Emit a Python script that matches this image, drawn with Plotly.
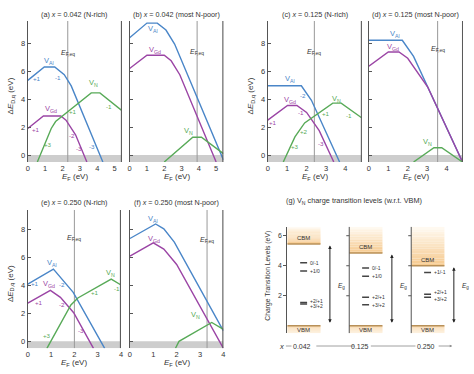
import plotly.graph_objects as go

W, H = 474, 374

# ---------------- data ----------------
panel_titles = ["(a) <i>x</i> = 0.042 (N-rich)", "(b) <i>x</i> = 0.042 (most N-poor)",
                "(c) <i>x</i> = 0.125 (N-rich)", "(d) <i>x</i> = 0.125 (most N-poor)",
                "(e) <i>x</i> = 0.250 (N-rich)", "(f) <i>x</i> = 0.250 (most N-poor)"]
band_gap = [5.42, 5.42, 4.85, 4.85, 4.0, 4.0]
EF_eq = [2.3, 3.9, 2.4, 3.54, 2.0, 3.3]
y_ticks = [0, 2, 4, 6, 8]

# (a) x = 0.042, N-rich
a_Al_E = [0, 0.95, 1.55, 2.1, 2.5, 4.32]
a_Al_dE = [5.35, 6.3, 6.3, 5.75, 4.95, -0.5]
a_Gd_E = [0, 0.9, 1.9, 2.2, 2.75, 3.4]
a_Gd_dE = [1.9, 2.8, 2.8, 2.5, 1.45, -0.5]
a_N_E = [0.55, 1.35, 1.6, 3.65, 4.15, 5.42]
a_N_dE = [-0.5, 1.9, 2.4, 4.45, 4.45, 3.18]
# (b) x = 0.042, most N-poor
b_Al_E = [0, 1.0, 1.6, 2.1, 2.6, 5.42]
b_Al_dE = [8.4, 9.45, 9.45, 8.95, 7.95, -0.35]
b_Gd_E = [0, 1.0, 2.0, 2.4, 2.9, 5.0]
b_Gd_dE = [6.2, 7.15, 7.15, 6.75, 5.75, -0.5]
b_N_E = [2.0, 3.65, 4.15, 5.42]
b_N_dE = [-0.5, 1.27, 1.27, 0.1]
# (c) x = 0.125, N-rich
c_Al_E = [0, 1.73, 2.25, 3.7]
c_Al_dE = [4.96, 4.96, 3.92, -0.5]
c_Gd_E = [0, 1.02, 1.5, 2.0, 2.65, 3.4]
c_Gd_dE = [2.5, 3.55, 3.55, 3.05, 1.75, -0.5]
c_N_E = [0.8, 1.4, 1.9, 3.35, 3.78, 4.85]
c_N_dE = [-0.5, 1.3, 2.3, 3.72, 3.72, 2.65]
# (d) x = 0.125, most N-poor
d_Al_E = [0, 1.72, 2.3, 4.82]
d_Al_dE = [8.22, 8.22, 7.06, -0.5]
d_Gd_E = [0, 1.0, 1.55, 2.0, 3.03, 4.82]
d_Gd_dE = [6.37, 7.38, 7.38, 6.93, 4.87, -0.5]
d_N_E = [2.3, 3.35, 3.75, 4.82]
d_N_dE = [-0.5, 0.52, 0.52, -0.5]
# (e) x = 0.250, N-rich
e_Al_E = [0, 1.1, 1.95, 3.3]
e_Al_dE = [4.1, 5.17, 3.5, -0.5]
e_Gd_E = [0, 0.97, 1.4, 1.97, 2.82]
e_Gd_dE = [2.73, 3.65, 3.15, 2.05, -0.5]
e_N_E = [0.82, 1.85, 2.15, 3.58, 4.0]
e_N_dE = [-0.5, 2.6, 3.1, 4.45, 4.03]
# (f) x = 0.250, most N-poor
f_Al_E = [0, 1.1, 1.45, 1.9, 4.0]
f_Al_dE = [7.36, 8.4, 8.05, 7.1, 0.75]
f_Gd_E = [0, 1.0, 1.45, 2.0, 4.0]
f_Gd_dE = [6.1, 7.05, 6.6, 5.5, -0.5]
f_N_E = [1.95, 2.1, 3.5, 4.0]
f_N_dE = [-0.5, 0.0, 1.35, 0.85]

# (g) V_N charge transition levels
g_x_labels = ["0.042", "0.125", "0.250"]
g_cbm = [5.45, 4.85, 4.0]
g_level_names = [["0/-1", "+1/0", "+2/+1", "+3/+2"],
                 ["0/-1", "+1/0", "+2/+1", "+3/+2"],
                 ["+1/-1", "+2/+1", "+3/+2"]]
g_levels = [[4.2, 3.65, 1.55, 1.45],
            [3.85, 3.3, 1.9, 1.4],
            [3.55, 2.1, 1.9]]

# ---------------- styling / layout ----------------
BLUE, PURPLE, GREEN = "#4a86c8", "#9b45a5", "#58aa58"
FONT = "Liberation Sans, Arial, sans-serif"
TXT = "#333333"

series = [
    [(a_Al_E, a_Al_dE, BLUE), (a_Gd_E, a_Gd_dE, PURPLE), (a_N_E, a_N_dE, GREEN)],
    [(b_Al_E, b_Al_dE, BLUE), (b_Gd_E, b_Gd_dE, PURPLE), (b_N_E, b_N_dE, GREEN)],
    [(c_Al_E, c_Al_dE, BLUE), (c_Gd_E, c_Gd_dE, PURPLE), (c_N_E, c_N_dE, GREEN)],
    [(d_Al_E, d_Al_dE, BLUE), (d_Gd_E, d_Gd_dE, PURPLE), (d_N_E, d_N_dE, GREEN)],
    [(e_Al_E, e_Al_dE, BLUE), (e_Gd_E, e_Gd_dE, PURPLE), (e_N_E, e_N_dE, GREEN)],
    [(f_Al_E, f_Al_dE, BLUE), (f_Gd_E, f_Gd_dE, PURPLE), (f_N_E, f_N_dE, GREEN)],
]

# panel pixel boxes: left, right, top, bottom
panel_px = [(26, 121, 21, 162), (128.7, 223.3, 21, 162),
            (268, 363, 21, 162), (370, 465, 21, 162),
            (26, 120, 210, 348.3), (129, 223.3, 210, 348.3)]
y_ranges = [[-0.5, 9.6]] * 4 + [[-0.5, 9.4]] * 2
eq_label_y = [7.3, 7.4, 7.4, 7.6, 7.4, 7.25]

# label placements (text, E, dE, colour, size)
L, S = 7.5, 6.2
panel_labels = [
    [("V<sub>Al</sub>", 1.2, 6.75, BLUE, L), ("+1", 0.55, 5.5, BLUE, S), ("-1", 1.75, 5.55, BLUE, S),
     ("-3", 3.72, 0.6, BLUE, S), ("V<sub>Gd</sub>", 1.35, 3.3, PURPLE, L), ("+1", 0.45, 1.85, PURPLE, S),
     ("-2", 2.55, 1.4, PURPLE, S), ("-3", 2.93, 0.45, PURPLE, S), ("V<sub>N</sub>", 3.77, 5.15, GREEN, L),
     ("+3", 1.17, 0.72, GREEN, S), ("+1", 2.62, 3.1, GREEN, S), ("-1", 4.7, 3.45, GREEN, S)],
    [("V<sub>Al</sub>", 1.37, 9.0, BLUE, L), ("V<sub>Gd</sub>", 1.45, 7.5, PURPLE, L),
     ("V<sub>N</sub>", 3.4, 1.75, GREEN, L)],
    [("V<sub>Al</sub>", 1.14, 5.42, BLUE, L), ("-2", 1.82, 4.23, BLUE, S), ("V<sub>Gd</sub>", 1.14, 3.94, PURPLE, L),
     ("+1", 0.25, 2.35, PURPLE, S), ("-1", 1.73, 3.03, PURPLE, S), ("-3", 2.76, 0.8, PURPLE, S),
     ("+2", 1.85, 1.67, GREEN, S), ("+3", 1.4, 0.6, GREEN, S), ("V<sub>N</sub>", 3.52, 4.0, GREEN, L),
     ("+1", 3.0, 3.0, GREEN, S), ("-1", 4.2, 2.8, GREEN, S)],
    [("V<sub>Al</sub>", 1.35, 8.7, BLUE, L), ("V<sub>Gd</sub>", 1.24, 7.75, PURPLE, L),
     ("V<sub>N</sub>", 3.0, 0.9, GREEN, L)],
    [("V<sub>Al</sub>", 1.04, 5.58, BLUE, L), ("+1", 0.33, 4.15, BLUE, S), ("-2", 1.46, 4.1, BLUE, S),
     ("V<sub>Gd</sub>", 0.89, 4.08, PURPLE, L), ("+1", 0.47, 2.8, PURPLE, S), ("-2", 1.46, 2.61, PURPLE, S),
     ("-3", 2.27, 0.76, PURPLE, S), ("+3", 0.82, 0.4, GREEN, S), ("+1", 2.88, 3.49, GREEN, S),
     ("-1", 3.83, 3.8, GREEN, S), ("V<sub>N</sub>", 3.55, 4.87, GREEN, L)],
    [("V<sub>Al</sub>", 1.0, 8.79, BLUE, L), ("V<sub>Gd</sub>", 1.03, 7.36, PURPLE, L),
     ("V<sub>N</sub>", 2.8, 1.9, GREEN, L)],
]


def px_x(p):
    return p / W


def px_y(p):
    return 1 - p / H


fig = go.Figure()
layout = dict(width=W, height=H, margin=dict(l=0, r=0, t=0, b=0),
              paper_bgcolor="white", plot_bgcolor="white",
              font=dict(family=FONT, color=TXT, size=8), showlegend=False,
              hovermode=False)
shapes, annotations = [], []


def ann(text, x, y, xref="paper", yref="paper", size=8, color=TXT, xanchor="center",
        yanchor="middle", angle=0):
    annotations.append(dict(text=text, x=x, y=y, xref=xref, yref=yref, showarrow=False,
                            font=dict(size=size, color=color, family=FONT),
                            xanchor=xanchor, yanchor=yanchor, textangle=angle))


for i in range(6):
    n = i + 1
    xa = "x" if n == 1 else f"x{n}"
    ya = "y" if n == 1 else f"y{n}"
    l, r, t, b = panel_px[i]
    gap = band_gap[i]
    for (E, dE, col) in series[i]:
        fig.add_trace(go.Scatter(x=E, y=dE, mode="lines", line=dict(color=col, width=1.4),
                                 xaxis=xa, yaxis=ya, hoverinfo="skip", cliponaxis=True))
    xt = list(range(0, int(gap) + 1))
    layout["xaxis" if n == 1 else f"xaxis{n}"] = dict(
        domain=[px_x(l), px_x(r)], range=[0, gap], anchor=ya, tickvals=xt,
        showgrid=False, zeroline=False, showline=False, ticks="",
        tickfont=dict(size=7.5, color=TXT))
    layout["yaxis" if n == 1 else f"yaxis{n}"] = dict(
        domain=[px_y(b), px_y(t)], range=y_ranges[i], anchor=xa, tickvals=y_ticks,
        showgrid=False, zeroline=False, showline=True, linecolor="#555", linewidth=1,
        ticks="inside", ticklen=3, tickcolor="#555", showticklabels=(i % 2 == 0),
        tickfont=dict(size=7.5, color=TXT))
    # grey band below zero
    shapes.append(dict(type="rect", xref=xa, yref=ya, x0=0, x1=gap, y0=y_ranges[i][0], y1=0,
                       fillcolor="#cdcdcd", line=dict(width=0), layer="below"))
    # E_F,eq line
    shapes.append(dict(type="line", xref=xa, yref=ya, x0=EF_eq[i], x1=EF_eq[i],
                       y0=y_ranges[i][0], y1=y_ranges[i][1], line=dict(color="#999", width=1),
                       layer="below"))
    # right (CBM) edge
    shapes.append(dict(type="line", xref=xa, yref=ya, x0=gap, x1=gap,
                       y0=y_ranges[i][0], y1=y_ranges[i][1], line=dict(color="#5a5a5a", width=2.2)))
    ann("<i>E</i><sub>F,eq</sub>", EF_eq[i], eq_label_y[i], xa, ya, size=7)
    for (txt, ex, ey, col, sz) in panel_labels[i]:
        ann(txt, ex, ey, xa, ya, size=sz, color=col)
    # titles and axis titles
    ann(panel_titles[i], px_x((l + r) / 2), px_y(t - 7), size=7.2)
    ann("<i>E</i><sub>F</sub> (eV)", px_x((l + r) / 2), px_y(b + 14.5), size=8)
    if i % 2 == 0 and i != 2:
        ann("Δ<i>E</i><sub>D,q</sub> (eV)", px_x(9), px_y((t + b) / 2 + 4), size=8, angle=-90)
    if i == 2:
        ann("Δ<i>E</i><sub>D,q</sub> (eV)", px_x(251), px_y((t + b) / 2 + 4), size=8, angle=-90)

# ---------------- panel (g) ----------------
g_left, g_right, g_top, g_bot = 287.7, 474, 226.7, 333.3
g_yr = [-0.5, 6.6]
col_axis_px = [287.7, 350.2, 412.7]
box_w = 33.5
layout["xaxis7"] = dict(domain=[px_x(g_left), px_x(g_right)], range=[g_left, g_right],
                        anchor="y7", visible=False)
layout["yaxis7"] = dict(domain=[px_y(g_bot), px_y(g_top)], range=g_yr, anchor="x7",
                        tickvals=[2, 4, 6], ticks="outside", ticklen=3, tickcolor="#555",
                        showline=True, linecolor="#555", linewidth=1, showgrid=False,
                        zeroline=False, tickfont=dict(size=7, color=TXT))
fig.add_trace(go.Scatter(x=[g_left], y=[0], mode="markers", marker=dict(opacity=0),
                         xaxis="x7", yaxis="y7", hoverinfo="skip"))


def lerp(c0, c1, f):
    return "rgb(%d,%d,%d)" % tuple(round(a + (b - a) * f) for a, b in zip(c0, c1))


ORANGE, PALE = (246, 203, 145), (255, 249, 240)
NSTRIP = 16
for k in range(3):
    cx = col_axis_px[k]
    cbm = g_cbm[k]
    # CBM gradient box
    for s in range(NSTRIP):
        y0 = cbm + (g_yr[1] - cbm) * s / NSTRIP
        y1 = cbm + (g_yr[1] - cbm) * (s + 1) / NSTRIP
        shapes.append(dict(type="rect", xref="x7", yref="y7", x0=cx, x1=cx + box_w, y0=y0, y1=y1,
                           fillcolor=lerp(ORANGE, PALE, s / (NSTRIP - 1)), line=dict(width=0),
                           layer="below"))
    # VBM gradient box
    for s in range(NSTRIP // 2):
        y1 = -0.5 * s / (NSTRIP // 2)
        y0 = -0.5 * (s + 1) / (NSTRIP // 2)
        shapes.append(dict(type="rect", xref="x7", yref="y7", x0=cx, x1=cx + box_w, y0=y0, y1=y1,
                           fillcolor=lerp(ORANGE, PALE, 0.2 + 0.6 * s / (NSTRIP // 2)),
                           line=dict(width=0), layer="below"))
    for yy in (cbm, 0):
        shapes.append(dict(type="line", xref="x7", yref="y7", x0=cx, x1=cx + box_w, y0=yy, y1=yy,
                           line=dict(color="#b89058", width=1.5)))
    ann("CBM", cx + box_w / 2, cbm + 0.38, "x7", "y7", size=6)
    ann("VBM", cx + box_w / 2, -0.25, "x7", "y7", size=6)
    if k > 0:
        shapes.append(dict(type="line", xref="x7", yref="y7", x0=cx, x1=cx, y0=g_yr[0], y1=g_yr[1],
                           line=dict(color="#555", width=1)))
        for tv in (2, 4, 6):
            shapes.append(dict(type="line", xref="x7", yref="y7", x0=cx - 3, x1=cx, y0=tv, y1=tv,
                               line=dict(color="#555", width=1)))
    # transition levels
    lv = g_levels[k]
    for j, (name, v) in enumerate(zip(g_level_names[k], lv)):
        shapes.append(dict(type="line", xref="x7", yref="y7", x0=cx + 13, x1=cx + 20, y0=v, y1=v,
                           line=dict(color="#444", width=1.5)))
        dy = 0
        if j > 0 and abs(lv[j - 1] - v) < 0.3:
            dy = -0.12
        if j + 1 < len(lv) and abs(lv[j + 1] - v) < 0.3:
            dy = 0.12
        ann(name, cx + 21, v + dy, "x7", "y7", size=5, xanchor="left")
    # E_g double arrow
    annotations.append(dict(x=cx + 43, y=cbm - 0.1, ax=cx + 43, ay=0.1, xref="x7", yref="y7",
                            axref="x7", ayref="y7", text="", showarrow=True, arrowside="end+start",
                            arrowhead=2, arrowsize=0.7, arrowwidth=1, arrowcolor="#222"))
    ann("<i>E</i><sub>g</sub>", cx + 49, 2.67, "x7", "y7", size=6.5, xanchor="left")

ann("(g) V<sub>N</sub> charge transition levels (w.r.t. VBM)", px_x(355), px_y(201), size=7.3)
ann("Charge Transition Levels (eV)", px_x(268), px_y(276), size=6.8, angle=-90)

# x axis of (g)
xlab_px = [303, 361.5, 428]
ann("<i>x</i>", px_x(282), px_y(346), size=7.5)
for (xa0, xa1) in [(286.3, 292), (317, 355.3), (372, 417)]:
    shapes.append(dict(type="line", xref="paper", yref="paper", x0=px_x(xa0), x1=px_x(xa1),
                       y0=px_y(346), y1=px_y(346), line=dict(color="#888", width=0.8)))
annotations.append(dict(x=px_x(454), y=px_y(346), ax=-15, ay=0, xref="paper",
                        yref="paper", axref="pixel", ayref="pixel", text="", showarrow=True,
                        arrowhead=2, arrowsize=0.6, arrowwidth=0.8, arrowcolor="#888"))
for k in range(3):
    ann(g_x_labels[k], px_x(xlab_px[k]), px_y(346), size=7)

layout["shapes"] = shapes
layout["annotations"] = annotations
fig.update_layout(**layout)
fig.write_html("out.html", config={"displayModeBar": False, "staticPlot": True},
               post_script="document.body.style.margin='0';document.body.style.padding='0';")
